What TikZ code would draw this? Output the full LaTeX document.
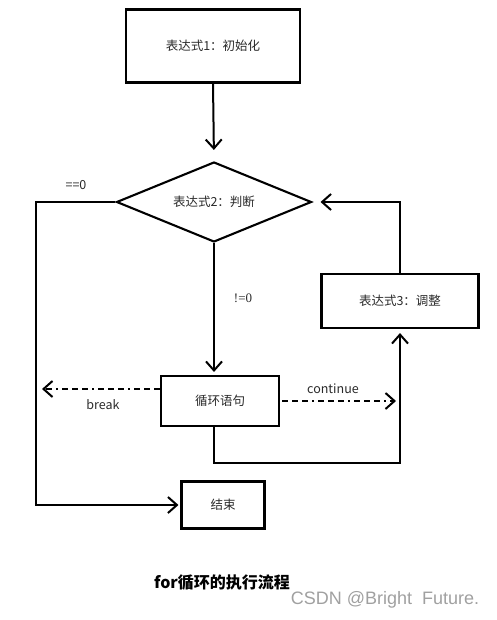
\documentclass[tikz,border=0pt]{standalone}
\usepackage{fontspec}
\setmainfont{Noto Sans CJK SC}
\newfontfamily\numfont{Liberation Serif}
\newfontfamily\markfont{Liberation Sans}
\usetikzlibrary{shapes.geometric,arrows.meta}
\definecolor{ink}{HTML}{000000}
\definecolor{txt}{HTML}{2A2A2A}
\definecolor{mark}{HTML}{A0A0A0}
\tikzset{
  box/.style={draw=ink, line width=2.1pt, inner sep=0pt, text=txt, font=\fontsize{12.5}{14}\selectfont},
  decide/.style={box, shape=diamond, aspect=2.4},
  flow/.style={draw=ink, line width=2pt, -{Straight Barb[length=9pt,width=16pt]}},
  jump/.style={flow, dash pattern=on 6pt off 4pt on 6pt off 4pt on 6pt off 4pt on 2pt off 4pt},
  lab/.style={text=txt, font=\fontsize{12.5}{14}\selectfont},
  note/.style={text=mark, font=\markfont\fontsize{18}{20}\selectfont}
}

\begin{document}
\begin{tikzpicture}[x=1pt, y=-1pt, line cap=butt, line join=miter]
  \useasboundingbox (0,0) rectangle (496,620);
  % boxes
  \node[box, minimum width=174pt, minimum height=73pt] (init) at (213,46) {表达式1：初始化};
  \node[decide, minimum width=195pt, minimum height=80pt] (judge) at (214,202) {表达式2：判断};
  \node[box, minimum width=157pt, minimum height=54pt] (adjust) at (400,301) {表达式3：调整};
  \node[box, minimum width=118pt, minimum height=50pt] (body) at (220,401) {循环语句};
  \node[box, minimum width=83pt, minimum height=47pt] (finish) at (223,505) {结束};
  \coordinate (lft) at (36,202);
  \coordinate (brk) at (42,389);
  % connectors
  \draw[flow, shorten >=11pt] (init.south) -- (judge.north);
  \draw[flow, shorten >=3pt] (judge.south) -- (judge.south |- body.north);
  \draw[flow, shorten >=2pt] (judge.west) -- (lft) |- (finish.west);
  \draw[flow, shorten >=8pt] (adjust.north) |- (judge.east);
  \draw[flow, shorten >=4pt] (judge.south |- body.south) -- ++(0,36) -| (adjust.south);
  \draw[jump] ([yshift=12pt]body.west) -- (brk);
  \draw[jump, shorten >=4pt] ([xshift=2pt]body.east) -- (body.east -| adjust.south);
  % labels
  \node[lab] (eq) at (76,185) {==0};
  \node[lab, font=\numfont\fontsize{13}{15}\selectfont] (ne) at (243,298) {!=0};
  \node[lab] (brklab) at (103,405) {break};
  \node[lab] (conlab) at (333,389) {continue};
  \node[font=\bfseries\fontsize{16}{18}\selectfont] (title) at (222,583) {for循环的执行流程};
  \node[note] (wm) at (385,600) {CSDN @Bright\ \ Future.};
\end{tikzpicture}
\end{document}
